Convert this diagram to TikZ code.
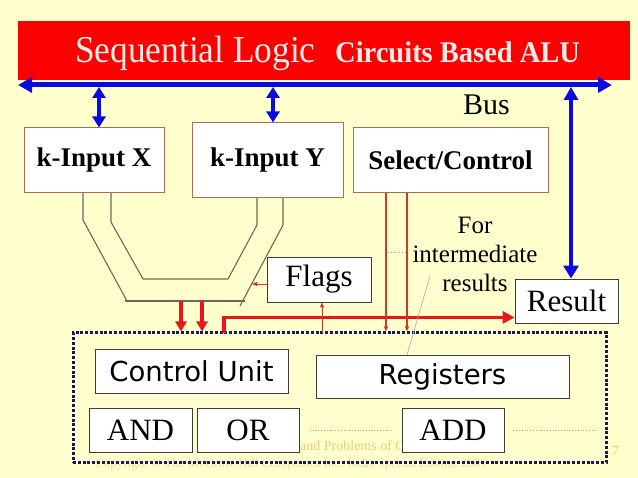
\documentclass[tikz,border=0pt]{standalone}
\usepackage{fontspec}
\setmainfont{Liberation Serif}
\newfontfamily\verd{DejaVu Sans}
\usetikzlibrary{arrows.meta}
\definecolor{bg}{RGB}{255,255,206}
\definecolor{barred}{RGB}{250,0,0}
\definecolor{titletxt}{RGB}{255,235,230}
\definecolor{busblue}{RGB}{10,10,225}
\definecolor{arrred}{RGB}{232,22,22}
\definecolor{thinred}{RGB}{200,60,40}
\definecolor{pathgray}{RGB}{105,105,90}
\definecolor{boxbrown}{RGB}{165,110,85}
\definecolor{navyd}{RGB}{25,25,90}
\definecolor{faint}{RGB}{228,208,125}
\definecolor{boxedge}{RGB}{60,60,60}
\begin{document}
\begin{tikzpicture}[x=1pt,y=-1pt,
  topbox/.style={draw=boxbrown, line width=1pt, fill=white, inner sep=0pt,
    font=\bfseries\fontsize{27}{30}\selectfont},
  plainbox/.style={draw=boxedge, line width=0.9pt, fill=white, inner sep=0pt},
  serifbig/.style={font=\fontsize{31}{34}\selectfont},
  sansbig/.style={font=\verd\fontsize{27.5}{30}\selectfont},
  busline/.style={line width=5pt, busblue},
  fatred/.style={line width=4pt, arrred},
  thinline/.style={line width=1.2pt, thinred},
  datapath/.style={line width=1.1pt, pathgray},
  guide/.style={line width=0.8pt, gray!70, dotted},
]
\useasboundingbox (0,0) rectangle (638,478);
\fill[bg] (0,0) rectangle (638,478);

% title bar
\fill[barred] (18,21) rectangle (630,80);
\node[anchor=base west, inner sep=0pt, text=titletxt, font=\fontsize{38}{40}\selectfont, xscale=0.93] (t1) at (75,63) {Sequential Logic};
\node[anchor=base west, inner sep=0pt, text=titletxt, font=\bfseries\fontsize{30}{32}\selectfont, xscale=0.95] (t2) at (335,63) {Circuits Based ALU};

% boxes
\node[topbox, minimum width=140, minimum height=65] (kx) at (94,160.5) {k-Input X};
\node[topbox, minimum width=151, minimum height=75] (ky) at (267.5,160.5) {k-Input Y};
\node[topbox, minimum width=195, minimum height=65] (sel) at (450.5,160.5) {Select/Control};
\node[plainbox, serifbig, minimum width=104, minimum height=45] (flags) at (319,279.5) {Flags};
\node[plainbox, serifbig, minimum width=103, minimum height=44] (result) at (566.5,301) {Result};

% bus
\coordinate (busL) at (18,85);
\coordinate (busR) at (612,85);
\draw[busline, {Triangle[length=14pt,width=15pt]}-{Triangle[length=14pt,width=15pt]}] (busL) -- (busR);
\node[anchor=base west, inner sep=0pt, font=\fontsize{30}{32}\selectfont] (bus) at (463,115) {Bus};

\coordinate (b1) at (99,87);
\coordinate (b2) at (273,87);
\coordinate (b3) at (571,87);
\draw[line width=4pt, busblue, {Triangle[length=11pt,width=13pt]}-{Triangle[length=11pt,width=13pt]}] (b1) -- (b1 |- kx.north);
\draw[line width=4pt, busblue, {Triangle[length=11pt,width=13pt]}-{Triangle[length=11pt,width=13pt]}] (b2) -- (b2 |- ky.north);
\draw[line width=4.5pt, busblue, {Triangle[length=13pt,width=14pt]}-{Triangle[length=13pt,width=15pt]}] (b3) -- (b3 |- result.north);

% data paths from X and Y
\draw[datapath] (83,193) -- (83,220) -- (127,301);
\draw[datapath] (125,301) -- (245,301);
\draw[datapath] (283,198) -- (283,225) -- (240,306);
\draw[datapath] (111,193) -- (111,222) -- (143,279) -- (228,279) -- (257,225) -- (257,198);

% footer (faint)
\node[anchor=base west, inner sep=0pt, text=faint, font=\fontsize{14}{16}\selectfont] (ft1) at (300,451) {and Problems of Co};
\node[anchor=base west, inner sep=0pt, text=faint!70, font=\fontsize{13}{15}\selectfont] (ft2) at (95,468) {Copyright © The McGraw-Hill Companies Inc. India Special Edition 2009};
\node[anchor=base west, inner sep=0pt, text=faint, font=\fontsize{14}{16}\selectfont] (ft3) at (612,456) {7};

% ALU dotted box
\node[draw=navyd, line width=3pt, dash pattern=on 3pt off 1.8pt, minimum width=533, minimum height=130, inner sep=0pt] (alu) at (339.5,398) {};

% inner boxes
\node[plainbox, sansbig, minimum width=193, minimum height=44] (ctrl) at (191.5,371) {Control Unit};
\node[plainbox, sansbig, minimum width=253, minimum height=43] (regs) at (442.5,376.5) {Registers};
\node[plainbox, serifbig, minimum width=103, minimum height=44] (and) at (140.5,430) {AND};
\node[plainbox, serifbig, minimum width=102, minimum height=44] (or) at (248,430) {OR};
\node[plainbox, serifbig, minimum width=102, minimum height=44] (add) at (453,430) {ADD};
\coordinate (g1) at (310,430);
\coordinate (g2) at (597,430);
\draw[guide] (g1) -- ([xshift=-10pt]add.west);
\draw[guide] ([xshift=9pt]add.east) -- (g2);

% red arrows into ALU
\coordinate (r1) at (181,301);
\coordinate (r2) at (202,301);
\draw[fatred, -{Triangle[length=10pt,width=11pt]}] (r1) -- (r1 |- alu.north);
\draw[fatred, -{Triangle[length=10pt,width=11pt]}] (r2) -- (r2 |- alu.north);
\coordinate (r3) at (224,333);
\draw[fatred, line width=3.5pt, -{Triangle[length=12pt,width=12pt]}] (r3) |- ([yshift=6pt]result.south west);

% flags arrows
\coordinate (fl) at (252,284);
\draw[thinline, line width=0.9pt, -{Triangle[length=5pt,width=4pt]}] (flags.west |- fl) -- (fl);
\coordinate (fb) at (322,333);
\draw[thinline, line width=0.9pt, -{Triangle[length=5pt,width=4pt]}] (fb) -- (fb |- flags.south);

% select/control lines
\coordinate (s1) at (386,193);
\coordinate (s2) at (407,193);
\draw[thinline, -{Triangle[length=5pt,width=4pt]}] (s1) -- (s1 |- alu.north);
\draw[thinline, -{Triangle[length=5pt,width=4pt]}] (s2) -- (s2 |- alu.north);
\draw[guide] (388,252) -- (406,252);

% note
\node[align=center, inner sep=0pt, font=\fontsize{25}{29}\selectfont] (note) at (475,254) {For\\intermediate\\results};
\coordinate (n1) at (430,276);
\draw[line width=0.7pt, gray!60] (n1) -- (407,355);
\end{tikzpicture}
\end{document}
